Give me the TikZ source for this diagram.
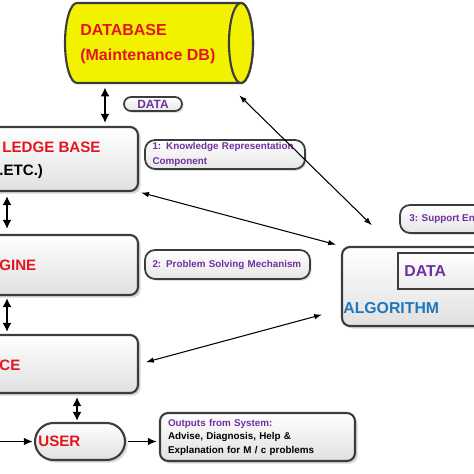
\documentclass[tikz,border=0pt]{standalone}
\usepackage{fontspec}
\setmainfont{Liberation Sans}
\usepackage{xcolor}
\usepackage{tikz}
\usetikzlibrary{arrows.meta,shadows}
\definecolor{esred}{RGB}{226,22,30}
\definecolor{espurple}{RGB}{112,48,160}
\definecolor{esblue}{RGB}{32,118,188}
\definecolor{esyellow}{RGB}{242,242,0}
\definecolor{esline}{RGB}{60,60,60}
\newcommand{\ESbig}{\fontsize{8.6}{14.2}\selectfont\bfseries}
\newcommand{\ESsmall}{\fontsize{5.6}{7.7}\selectfont\bfseries}
\tikzset{
  esbox/.style={draw=esline, line width=1.2pt, rounded corners=0.16cm, top color=white, bottom color=black!12,
    drop shadow={shadow xshift=1.5pt, shadow yshift=-1.5pt, fill=black!30}},
  espill/.style={draw=esline, line width=1pt, rounded corners=0.2cm, top color=white, bottom color=black!10,
    drop shadow={shadow xshift=1pt, shadow yshift=-1pt, fill=black!25}, font=\ESsmall, text=espurple,
    inner xsep=0.15cm, inner ysep=0pt},
  esdrum/.style={draw=esline, line width=1.2pt, fill=esyellow},
  eslabel/.style={anchor=west, inner sep=0pt, font=\ESbig},
  esarrow/.style={{Latex[length=1.6mm,width=1.1mm]}-{Latex[length=1.6mm,width=1.1mm]}, line width=0.6pt},
  esvarrow/.style={{Latex[length=1.8mm,width=1.8mm]}-{Latex[length=1.8mm,width=1.8mm]}, line width=1.1pt},
  essarrow/.style={-{Latex[length=1.8mm,width=1.5mm]}, line width=1pt},
}

\begin{document}
\begin{tikzpicture}[x=0.02cm, y=-0.02cm]
  \useasboundingbox (0,0) rectangle (474,474);
  \clip (0,0) rectangle (474,474);

  \node[minimum width=3.76cm, minimum height=1.6cm, inner sep=0pt] (db) at (159,43) {};
  \draw[esdrum] (77,3) -- (241,3) arc[start angle=-90, end angle=90, x radius=12, y radius=40]
    -- (77,83) arc[start angle=90, end angle=270, x radius=12, y radius=40] -- cycle;
  \draw[esdrum] (241,43) ellipse [x radius=12, y radius=40];
  \node[eslabel, text=esred, align=left, font=\fontsize{9.1}{14.2}\selectfont\bfseries] (dbtext) at (80,44.5) {DATABASE\\(Maintenance DB)};
  \node[espill, rounded corners=0.14cm, minimum width=1.16cm, minimum height=0.28cm, font=\fontsize{6.8}{8}\selectfont\bfseries] (datatag) at (153,104) {DATA};

  \node[esbox, minimum width=4.36cm, minimum height=1.28cm] (kb) at (29,159) {};
  \node[eslabel, text=esred] (kbname) at (2,147) {LEDGE BASE};
  \node[eslabel] (kbnote) at (-1,172) {.ETC.)};
  \node[esbox, minimum width=4.36cm, minimum height=1.2cm] (ie) at (29,265) {};
  \node[eslabel, text=esred] (iename) at (-1,265) {GINE};
  \node[esbox, minimum width=4.36cm, minimum height=1.16cm] (ui) at (29,364) {};
  \node[eslabel, text=esred] (uiname) at (-1,365) {CE};
  \node[esbox, rounded corners=0.37cm, minimum width=1.8cm, minimum height=0.74cm] (user) at (80,441.5) {};
  \node[eslabel, text=esred] (username) at (38,441) {USER};

  \node[espill, minimum width=3.2cm, minimum height=0.58cm, text width=2.9cm, align=left,
    font=\fontsize{5.6}{8.4}\selectfont\bfseries] (krtag) at (225,154.5) {1: Knowledge Representation\\Component};
  \node[espill, minimum width=3.3cm, minimum height=0.58cm, text width=3cm, align=left] (pstag) at (227.5,264.5) {2: Problem Solving Mechanism};
  \node[espill, minimum width=3.2cm, minimum height=0.56cm] (setag) at (480,219) {};
  \node[eslabel, font=\ESsmall, text=espurple] (setext) at (409,219) {3: Support En};

  \node[esbox, minimum width=4.36cm, minimum height=1.58cm] (sup) at (451,286.5) {};
  \node[draw=esline, line width=1.4pt, top color=white, bottom color=black!8, minimum width=3.24cm, minimum height=0.72cm] (supdata) at (479,271) {};
  \node[eslabel, font=\fontsize{9}{11}\selectfont\bfseries, text=espurple] (supdatatext) at (404,271) {DATA};
  \node[eslabel, font=\fontsize{9}{11}\selectfont\bfseries, text=esblue] (algo) at (343,308) {ALGORITHM};

  \node[esbox, minimum width=3.9cm, minimum height=0.8cm, text width=3.58cm, align=left, inner xsep=0.16cm,
    font=\ESsmall] (out) at (257.5,437) {\textcolor{espurple}{Outputs from System:}\\Advise, Diagnosis, Help \&\\Explanation for M / c problems};

  \coordinate (dbkb) at ([xshift=1.52cm]kb.north);
  \coordinate (kbie) at ([xshift=-0.44cm]kb.south);
  \coordinate (ieui) at ([xshift=-0.44cm]ie.south);
  \coordinate (uiuser) at ([xshift=-0.06cm]user.north);
  \coordinate (userin) at ([xshift=-0.9cm]user.west);
  \draw[esvarrow, shorten <=0.06cm, shorten >=0.08cm] (dbkb) -- (dbkb |- db.south);
  \draw[esvarrow, shorten <=0.08cm, shorten >=0.1cm] (kbie) -- (kbie |- ie.north);
  \draw[esvarrow, shorten <=0.04cm, shorten >=0.04cm] (ieui) -- (ieui |- ui.north);
  \draw[esvarrow, shorten <=0.02cm, shorten >=0.06cm] (uiuser) -- (uiuser |- ui.south);
  \draw[essarrow, shorten >=0.02cm] (userin) -- (user.west);
  \draw[essarrow, shorten <=0.04cm, shorten >=0.04cm] (user.east) -- (user.east -| out.west);
  \draw[esarrow, shorten <=0.34cm, shorten >=0.59cm] ([xshift=1.36cm]db.south) -- ([xshift=-1.16cm]sup.north);
  \draw[esarrow, shorten <=0.04cm, shorten >=0.1cm] (kb.south east) -- (sup.north west);
  \draw[esarrow, shorten <=0.14cm, shorten >=0.39cm] (ui.east) -- ([yshift=-0.46cm]sup.west);
\end{tikzpicture}
\end{document}
